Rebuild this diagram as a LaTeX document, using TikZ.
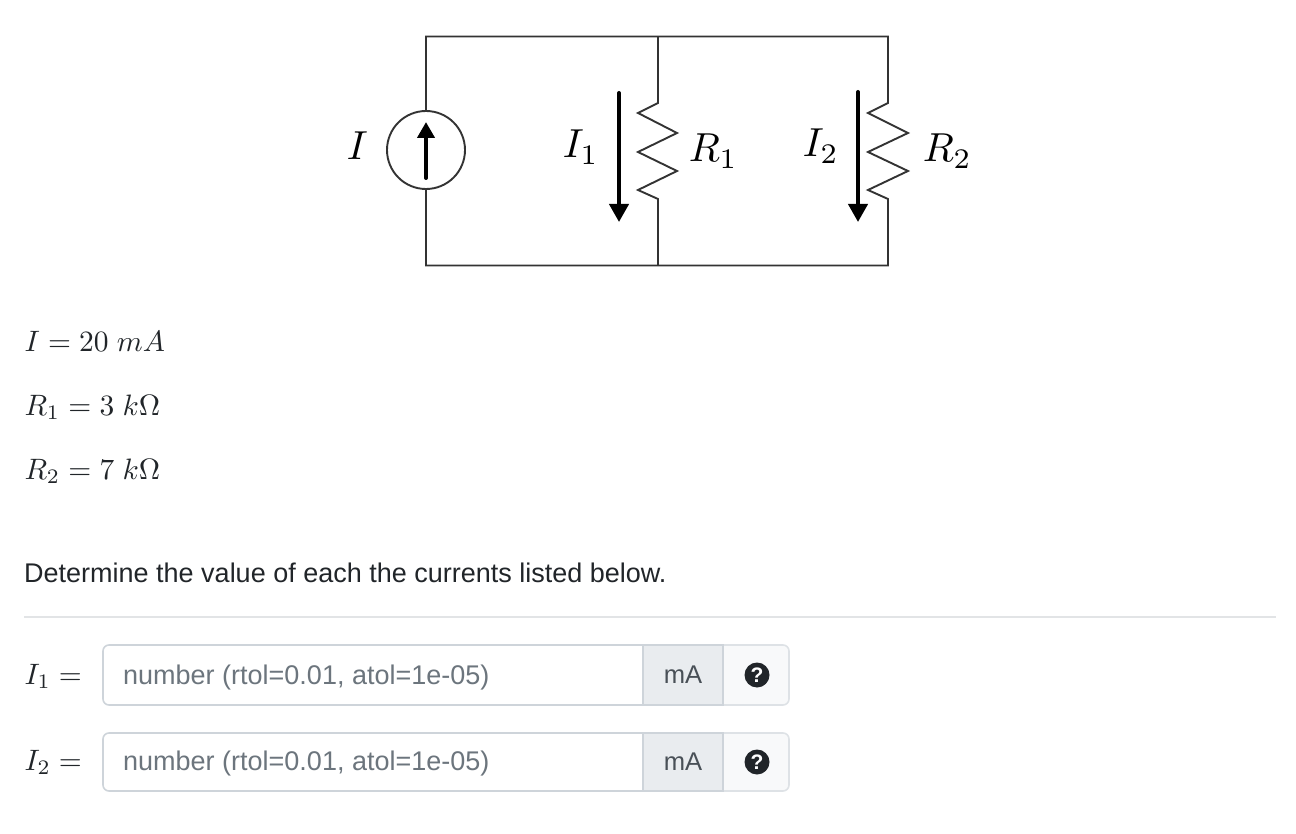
\documentclass[tikz,border=0pt]{standalone}
\usepackage{amsmath}
\usepackage{fontspec}
\setmainfont{Liberation Sans}
\usetikzlibrary{arrows.meta}
\definecolor{wirecol}{HTML}{333333}
\definecolor{bodycol}{HTML}{212529}
\definecolor{boxline}{HTML}{CED4DA}
\definecolor{helpline}{HTML}{DEE2E6}
\definecolor{holdertext}{HTML}{6C757D}
\definecolor{unittext}{HTML}{495057}
\definecolor{unitfill}{HTML}{E9ECEF}
\definecolor{helpfill}{HTML}{F8F9FA}
\definecolor{rulecol}{HTML}{E2E4E6}
\tikzset{
  wire/.style={draw=wirecol, line width=1.9pt, line join=miter},
  current/.style={line width=4pt, line cap=round, -{Triangle[length=18pt,width=19pt]}},
  circuitlabel/.style={anchor=base west, inner sep=0pt, scale=4.05, font=\normalsize},
  mathlabel/.style={anchor=base west, inner sep=0pt, scale=2.95, text=bodycol, font=\normalsize},
  bodylabel/.style={anchor=base west, inner sep=0pt, text=bodycol, font=\fontsize{27}{27}\selectfont},
  holder/.style={anchor=base west, inner sep=0pt, text=holdertext, font=\fontsize{27}{27}\selectfont},
  unitbox/.style={draw=boxline, fill=unitfill, line width=1.6pt, minimum width=80pt, text=unittext, font=\fontsize{25.6}{26}\selectfont},
  helpicon/.style={circle, fill=bodycol, inner sep=0pt, minimum size=25pt, text=white, font=\fontsize{21}{21}\bfseries\selectfont},
}

\begin{document}
\begin{tikzpicture}[x=1pt, y=-1pt]
  \useasboundingbox (0,0) rectangle (1296,834);

  \coordinate (a) at (426,36.5);
  \coordinate (b) at (658,36.5);
  \coordinate (c) at (888,36.5);
  \coordinate (d) at (426,265.5);
  \coordinate (e) at (658,265.5);
  \coordinate (f) at (888,265.5);
  \coordinate (r1top) at (658,103);
  \coordinate (r1bot) at (658,199);
  \coordinate (r2top) at (888,103);
  \coordinate (r2bot) at (888,199);
  \node [circle, wire, minimum size=78pt, inner sep=0pt] (src) at (426,150) {};

  \draw [wire] (src) -- (a) -- (c) -- (r2top) -- ++(-20,10) -- ++(40,20) -- ++(-40,19)
    -- ++(40,19) -- ++(-40,19) -- (r2bot) -- (f) -- (d) -- (src);
  \draw [wire] (b) -- (r1top) -- ++(-20,10) -- ++(39,20) -- ++(-39,19)
    -- ++(39,19) -- ++(-39,19) -- (r1bot) -- (e);

  \draw [line width=4pt, line cap=round, -{Triangle[length=16pt,width=17pt]}] (426,178) -- (426,122);
  \draw [current] (619,93) -- (619,222);
  \draw [current] (858,92) -- (858,222);

  \node [circuitlabel] (lI) at (346,160) {\(I\)};
  \node [circuitlabel] (lI1) at (562,158) {\(I_1\)};
  \node [circuitlabel] (lR1) at (688,162) {\(R_1\)};
  \node [circuitlabel] (lI2) at (802,157) {\(I_2\)};
  \node [circuitlabel] (lR2) at (922,162) {\(R_2\)};

  \node [mathlabel] (valI) at (24,352) {\(I = 20\ mA\)};
  \node [mathlabel] (valR1) at (24,415) {\(R_1 = 3\ k\Omega\)};
  \node [mathlabel] (valR2) at (24,479) {\(R_2 = 7\ k\Omega\)};

  \node [bodylabel] (prompt) at (24,582) {Determine the value of each the currents listed below.};
  \draw [rulecol, line width=1.2pt] (24,617) -- (1276,617);

  \foreach \n/\t/\b/\base in {1/645/705/684, 2/733/791/770} {
    \draw [boxline, fill=white, line width=1.6pt, rounded corners=6pt]
      (643,\t) -- (103,\t) -- (103,\b) -- (643,\b);
    \draw [helpline, fill=helpfill, line width=1.6pt, rounded corners=6pt]
      (723,\t) -- (789,\t) -- (789,\b) -- (723,\b);
    \node [unitbox, minimum height=\b pt-\t pt] (unit\n) at (683,{(\t+\b)/2}) {mA};
    \node [helpicon] (help\n) at (757,{(\t+\b)/2}) {?};
    \node [holder] (hold\n) at (123,\base) {number (rtol=0.01, atol=1e-05)};
    \node [mathlabel] (name\n) at (24,\base) {\(I_\n =\)};
  }
\end{tikzpicture}
\end{document}
